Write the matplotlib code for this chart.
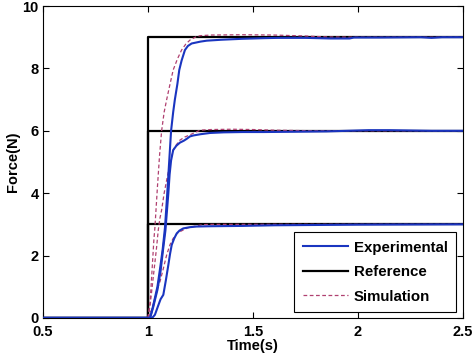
import numpy as np
import matplotlib.pyplot as plt

plt.rcParams['font.family'] = ['Liberation Sans', 'DejaVu Sans']
plt.rcParams['font.weight'] = 'bold'

# reference steps (N)
ref_levels = [9, 6, 3]
ref_step_time = 1.0
t_start, t_end = 0.5, 2.5

# experimental responses
exp9_t = [0.5, 1.0, 1.01, 1.025, 1.045, 1.06, 1.07, 1.081, 1.09, 1.1, 1.11, 1.12, 1.128, 1.14,
          1.149, 1.16, 1.176, 1.19, 1.208, 1.25, 1.28, 1.35, 1.45, 1.55, 1.62, 1.75, 1.87,
          1.96, 1.98, 2.1, 2.3, 2.35, 2.4, 2.5]
exp9_f = [0, 0, 0.0, 0.4, 1.0, 1.7, 2.2, 2.9, 3.8, 4.9, 6.0, 6.6, 7.0, 7.5,
          7.95, 8.25, 8.59, 8.72, 8.80, 8.86, 8.89, 8.92, 8.95, 8.97, 8.98, 8.98, 8.96,
          8.96, 8.99, 8.99, 9.0, 8.98, 9.0, 9.0]

exp6_t = [0.5, 1.0, 1.01, 1.025, 1.045, 1.06, 1.072, 1.083, 1.09, 1.097, 1.103, 1.11, 1.12,
          1.135, 1.152, 1.17, 1.184, 1.2, 1.216, 1.25, 1.295, 1.36, 1.45, 1.55, 1.7, 1.85,
          1.95, 2.05, 2.15, 2.25, 2.35, 2.5]
exp6_f = [0, 0, 0, 0.35, 0.9, 1.5, 2.2, 2.8, 3.4, 4.0, 4.6, 5.05, 5.38,
          5.52, 5.62, 5.68, 5.74, 5.82, 5.85, 5.89, 5.93, 5.95, 5.96, 5.96, 5.97, 5.98,
          6.0, 6.02, 6.02, 6.01, 6.0, 6.0]

exp3_t = [0.5, 1.0, 1.02, 1.033, 1.049, 1.06, 1.073, 1.085, 1.097, 1.105, 1.113, 1.125,
          1.137, 1.15, 1.168, 1.2, 1.232, 1.3, 1.45, 1.6, 1.8, 2.0, 2.5]
exp3_f = [0, 0, 0.0, 0.1, 0.4, 0.6, 0.74, 1.2, 1.70, 2.05, 2.34, 2.55,
          2.71, 2.8, 2.87, 2.91, 2.93, 2.94, 2.95, 2.97, 2.98, 2.99, 3.0]

# simulated responses
sim9_t = [1.0, 1.01, 1.02, 1.028, 1.033, 1.045, 1.055, 1.065, 1.077, 1.089, 1.105, 1.12,
          1.14, 1.16, 1.18, 1.2, 1.225, 1.248, 1.3, 1.45, 1.6, 1.75, 1.85, 2.0, 2.5]
sim9_f = [0, 0.5, 1.6, 2.5, 2.9, 4.2, 5.2, 6.0, 6.6, 7.0, 7.5, 7.95,
          8.3, 8.59, 8.78, 8.91, 9.0, 9.05, 9.07, 9.08, 9.07, 9.04, 9.01, 9.0, 9.0]

sim6_t = [1.0, 1.01, 1.02, 1.03, 1.04, 1.049, 1.057, 1.065, 1.077, 1.089, 1.105, 1.12,
          1.135, 1.152, 1.175, 1.2, 1.225, 1.248, 1.3, 1.4, 1.5, 1.6, 1.8, 2.5]
sim6_f = [0, 0.4, 1.0, 1.6, 2.2, 2.82, 3.2, 3.46, 4.0, 4.42, 4.95, 5.38,
          5.55, 5.7, 5.8, 5.87, 5.95, 6.02, 6.04, 6.05, 6.04, 6.02, 6.0, 6.0]

sim3_t = [1.0, 1.02, 1.035, 1.045, 1.057, 1.07, 1.089, 1.105, 1.12, 1.14, 1.168, 1.19,
          1.216, 1.26, 1.3, 2.5]
sim3_f = [0, 0.3, 0.7, 0.95, 1.16, 1.5, 2.02, 2.35, 2.55, 2.72, 2.82, 2.89,
          2.93, 2.99, 3.0, 3.0]

blue = '#1a35c0'
sim_color = '#b04070'

fig = plt.figure(figsize=(4.74, 3.56), dpi=100)
ax = fig.add_axes([0.0907, 0.107, 0.886, 0.876])

# reference steps
for lvl in ref_levels:
    h_ref, = ax.plot([t_start, ref_step_time, ref_step_time, t_end], [0, 0, lvl, lvl],
                     color='black', lw=1.6, zorder=2)

# simulation
for ts, fs in [(sim9_t, sim9_f), (sim6_t, sim6_f), (sim3_t, sim3_f)]:
    h_sim, = ax.plot(ts, fs, color=sim_color, lw=0.9, linestyle=(0, (3, 2)), zorder=3)

# experimental
for te, fe in [(exp9_t, exp9_f), (exp6_t, exp6_f), (exp3_t, exp3_f)]:
    h_exp, = ax.plot(te, fe, color=blue, lw=1.5, zorder=4)

ax.set_xlim(t_start, t_end)
ax.set_ylim(0, 10)
ax.set_xticks([0.5, 1, 1.5, 2, 2.5])
ax.set_xticklabels(['0.5', '1', '1.5', '2', '2.5'])
ax.set_yticks([0, 2, 4, 6, 8, 10])
ax.tick_params(direction='in', top=True, right=True, length=4, width=0.8,
               labelsize=10.5)
ax.tick_params(axis='x', pad=5)
ax.tick_params(axis='y', pad=3)
for lab in ax.get_xticklabels() + ax.get_yticklabels():
    lab.set_fontweight('bold')
for s in ax.spines.values():
    s.set_linewidth(0.8)

ax.set_xlabel('Time(s)', fontsize=10.5, fontweight='bold', labelpad=0)
ax.set_ylabel('Force(N)', fontsize=10.5, fontweight='bold', labelpad=2)

leg = ax.legend([h_exp, h_ref, h_sim], ['Experimental', 'Reference', 'Simulation'],
                loc='lower right', bbox_to_anchor=(0.983, 0.019), borderaxespad=0,
                fancybox=False, framealpha=1, edgecolor='black',
                prop={'size': 10.8, 'weight': 'bold'},
                handlelength=3.0, labelspacing=0.7, borderpad=0.55, handletextpad=0.4)
leg.get_frame().set_linewidth(0.8)

fig.savefig('out.png', dpi=100)
